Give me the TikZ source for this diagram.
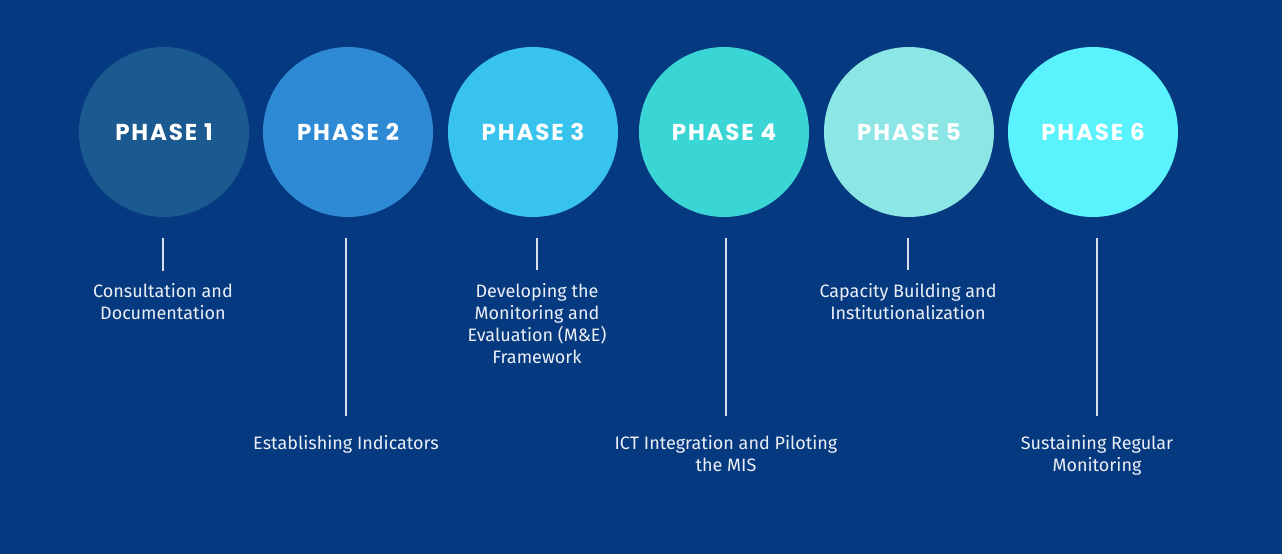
\documentclass[tikz,border=0pt]{standalone}
\usepackage{fontspec}
\setmainfont{Fira Sans}
\newfontfamily\headfont[LetterSpace=8]{Poppins Bold}
\definecolor{bg}{HTML}{063A80}
\definecolor{cA}{HTML}{1A5A90}
\definecolor{cB}{HTML}{2E8AD4}
\definecolor{cC}{HTML}{38C3EF}
\definecolor{cD}{HTML}{3AD6D6}
\definecolor{cE}{HTML}{8CE6E6}
\definecolor{cF}{HTML}{5AF2FC}
\begin{document}
\begin{tikzpicture}[x=1pt,y=-1pt,
  phase/.style={circle,minimum size=170pt,inner sep=0pt,text=white,font=\headfont\fontsize{23}{23}\selectfont},
  tick/.style={draw=white!85!bg,line width=1.6pt},
  lab/.style={text=white!92!bg,align=center,font=\fontsize{18}{22}\selectfont,inner sep=0pt}]
\fill[bg] (0,0) rectangle (1282,554);
\useasboundingbox (0,0) rectangle (1282,554);
\node[phase,fill=cA] (p1) at (164,132) {PHASE 1};
\node[phase,fill=cB] (p2) at (348,132) {PHASE 2};
\node[phase,fill=cC] (p3) at (533,132) {PHASE 3};
\node[phase,fill=cD] (p4) at (724,132) {PHASE 4};
\node[phase,fill=cE] (p5) at (909,132) {PHASE 5};
\node[phase,fill=cF] (p6) at (1093,132) {PHASE 6};
\coordinate (a1) at (163,238); \coordinate (b1) at (163,271);
\coordinate (a2) at (346,238); \coordinate (b2) at (346,416);
\coordinate (a3) at (537,238); \coordinate (b3) at (537,270);
\coordinate (a4) at (726,238); \coordinate (b4) at (726,416);
\coordinate (a5) at (908,238); \coordinate (b5) at (908,270);
\coordinate (a6) at (1097,238); \coordinate (b6) at (1097,416);
\foreach \i in {1,...,6} \draw[tick] (a\i) -- (b\i);
\node[lab,anchor=north] (t1) at (163,283) {Consultation and\\Documentation};
\node[lab,anchor=north] (t2) at (346,435) {Establishing Indicators};
\node[lab,anchor=north] (t3) at (537,283) {Developing the\\Monitoring and\\Evaluation (M\&E)\\Framework};
\node[lab,anchor=north] (t4) at (726,435) {ICT Integration and Piloting\\the MIS};
\node[lab,anchor=north] (t5) at (908,283) {Capacity Building and\\Institutionalization};
\node[lab,anchor=north] (t6) at (1097,435) {Sustaining Regular\\Monitoring};
\end{tikzpicture}
\end{document}
